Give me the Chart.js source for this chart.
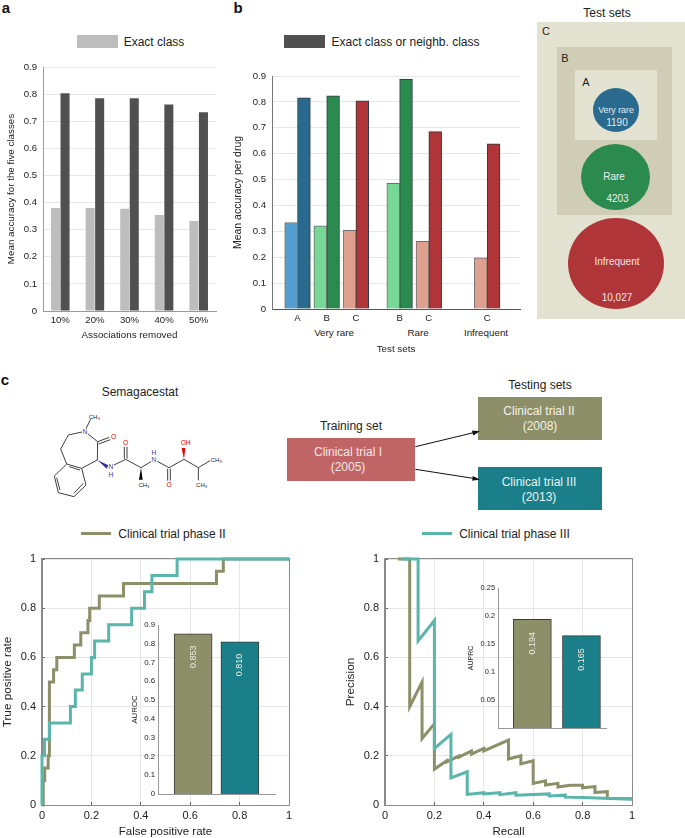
<!DOCTYPE html>
<html>
<head>
<meta charset="utf-8">
<title>Figure</title>
<script src="https://cdn.jsdelivr.net/npm/chart.js@4"></script>
<style>
html, body { margin: 0; padding: 0; background: #fff; }
#page { position: relative; width: 685px; height: 838px; overflow: hidden; font-family: "Liberation Sans", Arial, sans-serif; color: #222; }
#page canvas { position: absolute; }
.txt { position: absolute; white-space: nowrap; transform: translate(-50%, -50%); line-height: 1; }
.panel { font-weight: bold; font-size: 15px; color: #111; }
.box { position: absolute; }
.round { position: absolute; border-radius: 50%; }
</style>
</head>
<body>
<div id="page">
  <!-- panel letters -->
  <div class="txt panel" style="left:6px;top:7px">a</div>
  <div class="txt panel" style="left:238px;top:7px">b</div>
  <div class="txt panel" style="left:5px;top:379px">c</div>

  <!-- legends a / b -->
  <div class="box" style="left:77px;top:35px;width:41px;height:13px;background:#bdbdbd"></div>
  <div class="txt" style="left:154px;top:41.5px;font-size:12px">Exact class</div>
  <div class="box" style="left:284px;top:35px;width:41px;height:13px;background:#505050"></div>
  <div class="txt" style="left:405.5px;top:41.5px;font-size:12px">Exact class or neighb. class</div>

  <!-- group labels under panel b -->
  <div class="txt" style="left:334px;top:333px;font-size:9.8px">Very rare</div>
  <div class="txt" style="left:418px;top:333px;font-size:9.8px">Rare</div>
  <div class="txt" style="left:486px;top:333px;font-size:9.8px">Infrequent</div>

  <!-- test sets diagram -->
  <div class="txt" style="left:607px;top:13px;font-size:12px">Test sets</div>
  <div class="box" style="left:537px;top:22px;width:148px;height:297px;background:#e3e2d0"></div>
  <div class="box" style="left:557px;top:47px;width:115px;height:168px;background:#cfcdb6"></div>
  <div class="box" style="left:575px;top:70px;width:82px;height:70px;background:#e3e2d0"></div>
  <div class="txt" style="left:546px;top:31px;font-size:11px">C</div>
  <div class="txt" style="left:565px;top:58px;font-size:11px">B</div>
  <div class="txt" style="left:586px;top:82px;font-size:11px">A</div>
  <div class="round" style="left:593px;top:88px;width:46px;height:44px;background:#2a6a8e"></div>
  <div class="round" style="left:581px;top:144px;width:69px;height:66px;background:#2b8a4d"></div>
  <div class="round" style="left:568px;top:218px;width:96px;height:91px;background:#b03539"></div>
  <div class="txt" style="left:616px;top:109.5px;font-size:8.8px;color:#e4ebef">Very rare</div>
  <div class="txt" style="left:617px;top:123px;font-size:10px;color:#e4ebef">1190</div>
  <div class="txt" style="left:614px;top:177px;font-size:10px;color:#eef3ef">Rare</div>
  <div class="txt" style="left:617.5px;top:199px;font-size:10px;color:#eef3ef">4203</div>
  <div class="txt" style="left:617px;top:262px;font-size:10px;color:#f3e6e6">Infrequent</div>
  <div class="txt" style="left:617px;top:297.5px;font-size:10px;color:#f3e6e6">10,027</div>

  <!-- panel c header -->
  <div class="txt" style="left:140px;top:392px;font-size:12px">Semagacestat</div>
  <svg class="box" style="left:0;top:370px" width="250" height="170" viewBox="0 0 750 510" font-family="Liberation Sans, Arial, sans-serif" font-size="18">
    <g stroke="#222" stroke-width="2.6" fill="none">
      <path d="M200 282 L245 295 L258 345 L222 380 L175 368 L163 318 Z"/>
      <path d="M208 290 L240 300 M250 340 L222 370 M180 360 L170 323"/>
      <path d="M200 282 L182 237 L205 195 L246 186"/>
      <path d="M245 295 L292 270 L293 215"/>
      <path d="M258 176 L272 148"/>
      <path d="M293 215 L264 192"/>
      <path d="M377 268 L342 285"/>
      <path d="M423 293 L377 268 M373 266 L373 230 M381 266 L381 230" />
      <path d="M423 293 L453 275"/>
      <path d="M507 293 L472 274"/>
      <path d="M507 293 L552 268 L595 293 L630 272 M595 293 L595 331"/>
      <path d="M503 296 L503 332 M511 296 L511 332"/>
      <path d="M293 215 L328 202 M296 222 L331 209"/>
    </g>
    <path d="M292 270 L325 286 L320 296 Z" fill="#333399"/>
    <path d="M423 293 L417 329 L428 329 Z" fill="#000"/>
    <path d="M552 268 L545 234 L556 234 Z" fill="#e00000"/>
    <g stroke="none" text-anchor="middle">
      <text x="255" y="192" fill="#3b3ba8" font-size="20">N</text>
      <text x="283" y="146" fill="#222">CH&#8323;</text>
      <text x="341" y="207" fill="#e00000" font-size="20">O</text>
      <text x="333" y="298" fill="#3b3ba8" font-size="20">N</text>
      <text x="333" y="320" fill="#3b3ba8" font-size="20">H</text>
      <text x="377" y="225" fill="#e00000" font-size="20">O</text>
      <text x="432" y="350" fill="#222">CH&#8323;</text>
      <text x="462" y="275" fill="#3b3ba8" font-size="20">N</text>
      <text x="462" y="255" fill="#3b3ba8" font-size="20">H</text>
      <text x="507" y="350" fill="#e00000" font-size="20">O</text>
      <text x="557" y="224" fill="#e00000" font-size="20">OH</text>
      <text x="649" y="276" fill="#222">CH&#8323;</text>
      <text x="605" y="350" fill="#222">CH&#8323;</text>
    </g>
  </svg>

  <!-- training / testing flow -->
  <div class="txt" style="left:351px;top:426px;font-size:12px">Training set</div>
  <div class="box" style="left:287px;top:438px;width:128px;height:43px;background:#c06465"></div>
  <div class="txt" style="left:348px;top:452px;font-size:12px;color:#f4e6e6">Clinical trial I</div>
  <div class="txt" style="left:348px;top:467px;font-size:12px;color:#f4e6e6">(2005)</div>
  <div class="txt" style="left:540px;top:385px;font-size:12px">Testing sets</div>
  <div class="box" style="left:478px;top:397px;width:124px;height:43px;background:#8d8f68"></div>
  <div class="txt" style="left:539px;top:410.5px;font-size:12px;color:#f2f2ea">Clinical trial II</div>
  <div class="txt" style="left:540px;top:426px;font-size:12px;color:#f2f2ea">(2008)</div>
  <div class="box" style="left:478px;top:467px;width:124px;height:43px;background:#1a7f89"></div>
  <div class="txt" style="left:539px;top:482px;font-size:12px;color:#e6f2f3">Clinical trial III</div>
  <div class="txt" style="left:539px;top:497px;font-size:12px;color:#e6f2f3">(2013)</div>
  <svg class="box" style="left:0;top:0" width="685" height="838">
    <path d="M415.3 446.7 L473 432.8 M415.3 469.3 L473 478.3" stroke="#111" stroke-width="1" fill="none"/>
    <path d="M480 431.2 L472 430.6 L473.2 435.4 Z M480 479.4 L472.8 475.9 L472.2 480.8 Z" fill="#111"/>
  </svg>

  <!-- legend of curves -->
  <div class="box" style="left:81px;top:532px;width:30px;height:3px;background:#8d8f68"></div>
  <div class="txt" style="left:172px;top:534px;font-size:12px">Clinical trial phase II</div>
  <div class="box" style="left:422px;top:532px;width:30px;height:3px;background:#5ab5ab"></div>
  <div class="txt" style="left:514.5px;top:534px;font-size:12px">Clinical trial phase III</div>
</div>

<script>
// panel a
const removedLabels = ['10%', '20%', '30%', '40%', '50%'];
const exactClass = [0.38, 0.38, 0.377, 0.354, 0.332];
const exactOrNeighb = [0.803, 0.785, 0.785, 0.762, 0.733];

// panel b, blank slots keep the gaps between the three groups
const testSetLabels = ['', '', '', 'A', '', '', '', 'B', '', '', '', 'C', '', '', '', '', '', 'B', '', '', '', 'C', '', '', '', '', '', '', '', 'C', '', '', '', ''];
const perDrugExact = [null, null, null, 0.334, null, null, null, 0.321, null, null, null, 0.304, null, null, null, null, null, 0.485, null, null, null, 0.261, null, null, null, null, null, null, null, 0.198, null, null, null, null];
const perDrugNeighb = [null, null, null, 0.816, null, null, null, 0.823, null, null, null, 0.804, null, null, null, null, null, 0.888, null, null, null, 0.685, null, null, null, null, null, null, null, 0.638, null, null, null, null];
const perDrugExactColors = ['', '', '', '#559fcf', '', '', '', '#76d796', '', '', '', '#e0a090', '', '', '', '', '', '#76d796', '', '', '', '#e0a090', '', '', '', '', '', '', '', '#e0a090', '', '', '', ''];
const perDrugNeighbColors = ['', '', '', '#2a6a8e', '', '', '', '#2b8a4d', '', '', '', '#b03539', '', '', '', '', '', '#2b8a4d', '', '', '', '#b03539', '', '', '', '', '', '', '', '#b03539', '', '', '', ''];

// panel c, ROC curves
const rocFprPhase2 = [0, 0.005, 0.005, 0.011, 0.011, 0.025, 0.025, 0.03, 0.03, 0.047, 0.047, 0.06, 0.06, 0.131, 0.131, 0.157, 0.157, 0.186, 0.186, 0.193, 0.193, 0.232, 0.232, 0.33, 0.33, 0.7065, 0.7065, 0.734, 0.734, 1];
const rocTprPhase2 = [0, 0, 0.1, 0.1, 0.15, 0.15, 0.2, 0.2, 0.5, 0.5, 0.55, 0.55, 0.6, 0.6, 0.65, 0.65, 0.7, 0.7, 0.75, 0.75, 0.8, 0.8, 0.85, 0.85, 0.9, 0.9, 0.95, 0.95, 1, 1];
const rocFprPhase3 = [0, 0, 0.01, 0.01, 0.03, 0.03, 0.115, 0.115, 0.135, 0.135, 0.163, 0.163, 0.2, 0.2, 0.213, 0.213, 0.27, 0.27, 0.363, 0.363, 0.415, 0.415, 0.445, 0.445, 0.547, 0.547, 1];
const rocTprPhase3 = [0, 0.2, 0.2, 0.267, 0.267, 0.333, 0.333, 0.4, 0.4, 0.467, 0.467, 0.533, 0.533, 0.6, 0.6, 0.667, 0.667, 0.733, 0.733, 0.8, 0.8, 0.867, 0.867, 0.933, 0.933, 1, 1];

// panel c, precision-recall curves
const prRecallPhase2 = [0.053, 0.1, 0.1, 0.15, 0.15, 0.2, 0.2, 0.25, 0.25, 0.3, 0.3, 0.35, 0.35, 0.4, 0.4, 0.5, 0.5, 0.55, 0.55, 0.6, 0.6, 0.65, 0.65, 0.7, 0.7, 0.75, 0.8, 0.8, 0.85, 0.85, 0.9, 0.9, 1];
const prPrecisionPhase2 = [1, 1, 0.4, 0.5, 0.27, 0.33, 0.146, 0.18, 0.175, 0.2, 0.195, 0.22, 0.207, 0.23, 0.22, 0.264, 0.187, 0.2, 0.167, 0.18, 0.088, 0.098, 0.081, 0.088, 0.073, 0.08, 0.08, 0.07, 0.075, 0.051, 0.054, 0.027, 0.025];
const prRecallPhase3 = [0.067, 0.134, 0.134, 0.2, 0.2, 0.267, 0.267, 0.333, 0.333, 0.4, 0.4, 0.465, 0.465, 0.53, 0.53, 0.665, 0.665, 0.73, 0.73, 0.8, 1];
const prPrecisionPhase3 = [1, 1, 0.667, 0.75, 0.23, 0.287, 0.11, 0.135, 0.043, 0.05, 0.045, 0.05, 0.042, 0.05, 0.04, 0.045, 0.037, 0.04, 0.032, 0.03, 0.023];

const ratioTicks = [0, 0.2, 0.4, 0.6, 0.8, 1];

// insets, blank slots hold the bars apart from the axis
const aurocSlots = ['', 'Phase II', '', 'Phase III', ''];
const aurocValues = [null, 0.853, null, 0.81, null];
const aurocLabels = ['', '0.853', '', '0.810', ''];
const auprcSlots = ['', '', '', 'Phase II', '', '', '', '', 'Phase III', '', ''];
const auprcValues = [null, null, null, 0.194, null, null, null, null, 0.165, null, null];
const auprcLabels = ['', '', '', '0.194', '', '', '', '', '0.165', '', ''];

const olive = '#8d8f68';
const teal = '#5ab5ab';
const darkTeal = '#1a7f89';
const gridColor = '#e6e6e6';
const axisColor = '#8a8a8a';

Chart.defaults.font.family = '"Liberation Sans", Arial, sans-serif';
Chart.defaults.color = '#222';
Chart.defaults.animation = false;
Chart.defaults.plugins.legend.display = false;
Chart.defaults.plugins.tooltip.enabled = false;

function addCanvas(left, top, width, height) {
    const canvas = document.createElement('canvas');
    canvas.width = width;
    canvas.height = height;
    canvas.style.left = left + 'px';
    canvas.style.top = top + 'px';
    canvas.style.width = width + 'px';
    canvas.style.height = height + 'px';
    document.getElementById('page').appendChild(canvas);
    return canvas.getContext('2d');
}

// fixed axis boxes so the plot area lands where it should
function fixWidth(size) {
    return scale => {
        scale.width = size;
        scale.paddingTop = 0;
        scale.paddingBottom = 0;
    };
}
function fixHeight(size) {
    return scale => {
        scale.height = size;
        scale.paddingLeft = 0;
        scale.paddingRight = 0;
    };
}

const frame = {
    id: 'frame',
    beforeDatasetsDraw(chart) {
        const { ctx, chartArea: a } = chart;
        ctx.save();
        ctx.strokeStyle = axisColor;
        ctx.lineWidth = 1;
        ctx.strokeRect(a.left - 0.5, a.top - 0.5, a.right - a.left + 1, a.bottom - a.top + 1);
        ctx.restore();
    }
};

function barValueLabels(labels, top) {
    return {
        id: 'barValueLabels',
        afterDatasetsDraw(chart) {
            const { ctx } = chart;
            chart.getDatasetMeta(0).data.forEach((bar, i) => {
                if (!labels[i]) return;
                ctx.save();
                ctx.translate(bar.x, bar.y + top);
                ctx.rotate(-Math.PI / 2);
                ctx.font = '9px "Liberation Sans", Arial, sans-serif';
                ctx.fillStyle = '#eeeee2';
                ctx.textAlign = 'center';
                ctx.textBaseline = 'middle';
                ctx.fillText(labels[i], 0, 0);
                ctx.restore();
            });
        }
    };
}

// panel a
new Chart(addCanvas(0, 55, 225, 290), {
    type: 'bar',
    data: {
        labels: removedLabels,
        datasets: [
            { data: exactClass, backgroundColor: '#bdbdbd', categoryPercentage: 0.55, barPercentage: 0.95 },
            { data: exactOrNeighb, backgroundColor: '#505050', categoryPercentage: 0.55, barPercentage: 0.95 }
        ]
    },
    options: {
        responsive: false,
        layout: { padding: { top: 12, right: 9 } },
        scales: {
            x: {
                afterFit: fixHeight(34),
                grid: { display: false, drawTicks: false },
                border: { color: '#9a9a9a' },
                ticks: { font: { size: 9.6 }, padding: 4, maxRotation: 0 },
                title: { display: true, text: 'Associations removed', font: { size: 9.8 }, padding: { top: 0, bottom: 4 } }
            },
            y: {
                min: 0, max: 0.9,
                afterFit: fixWidth(43),
                grid: { color: gridColor, drawTicks: false },
                border: { color: '#9a9a9a' },
                ticks: { stepSize: 0.1, font: { size: 9.6 }, padding: 6, callback: v => v === 0 ? '0' : v.toFixed(1) },
                title: { display: true, text: 'Mean accuracy for the five classes', font: { size: 9.8 }, padding: { top: 5, bottom: 0 } }
            }
        }
    }
});

// panel b
new Chart(addCanvas(232, 64, 295, 292), {
    type: 'bar',
    data: {
        labels: testSetLabels,
        datasets: [
            { data: perDrugExact, backgroundColor: perDrugExactColors, borderColor: '#6f6f6f', borderWidth: 1, barThickness: 12.8 },
            { data: perDrugNeighb, backgroundColor: perDrugNeighbColors, borderColor: '#2e3a40', borderWidth: 1, barThickness: 12.8 }
        ]
    },
    options: {
        responsive: false,
        layout: { padding: { top: 12, right: 7 } },
        scales: {
            x: {
                afterFit: fixHeight(47),
                grid: { display: false, drawTicks: false },
                border: { color: '#555' },
                ticks: {
                    font: { size: 9.6 }, padding: 4, autoSkip: false, maxRotation: 0,
                    callback: (v, i) => testSetLabels[i]
                },
                title: { display: true, text: 'Test sets', font: { size: 9.8 }, padding: { top: 0, bottom: 1 } }
            },
            y: {
                min: 0, max: 0.9,
                afterFit: fixWidth(40),
                grid: { color: gridColor, drawTicks: false },
                border: { color: '#777' },
                ticks: { stepSize: 0.1, font: { size: 9.6 }, padding: 6, callback: v => v === 0 ? '0' : v.toFixed(1) },
                title: { display: true, text: 'Mean accuracy per drug', font: { size: 10.5 }, padding: { top: 0, bottom: 0 } }
            }
        }
    }
});

function curveChart(ctx, xTitle, yTitle, leftBox, series) {
    return new Chart(ctx, {
        type: 'scatter',
        data: { datasets: series.map(s => ({
            data: s.x.map((v, i) => ({ x: v, y: s.y[i] })),
            showLine: true,
            pointRadius: 0,
            borderColor: s.color,
            borderWidth: 3,
            borderCapStyle: 'butt',
            borderJoinStyle: 'miter',
            clip: 4,
            order: s.order
        })) },
        options: {
            responsive: false,
            layout: { padding: { top: 9, right: 8 } },
            scales: {
                x: {
                    min: 0, max: 1,
                    afterFit: fixHeight(37),
                    grid: { color: gridColor, tickColor: '#666', tickLength: -3 },
                    border: { color: axisColor },
                    afterBuildTicks: scale => { scale.ticks = ratioTicks.map(v => ({ value: v })); },
                    ticks: { font: { size: 11 }, padding: 7, maxRotation: 0, callback: v => String(v) },
                    title: { display: true, text: xTitle, font: { size: 11.5 }, padding: { top: 0, bottom: 3 } }
                },
                y: {
                    min: 0, max: 1,
                    afterFit: fixWidth(leftBox),
                    grid: { color: gridColor, tickColor: '#666', tickLength: -3 },
                    border: { color: axisColor },
                    afterBuildTicks: scale => { scale.ticks = ratioTicks.map(v => ({ value: v })); },
                    ticks: { font: { size: 11 }, padding: 9, callback: v => String(v) },
                    title: { display: true, text: yTitle, font: { size: 11.8 }, padding: { top: 1, bottom: 0 } }
                }
            }
        },
        plugins: [frame]
    });
}

// ROC
curveChart(addCanvas(0, 550, 297, 292), 'False positive rate', 'True positive rate', 42, [
    { x: rocFprPhase2, y: rocTprPhase2, color: olive, order: 2 },
    { x: rocFprPhase3, y: rocTprPhase3, color: teal, order: 1 }
]);

// precision-recall
curveChart(addCanvas(343, 550, 297, 292), 'Recall', 'Precision', 42, [
    { x: prRecallPhase2, y: prPrecisionPhase2, color: olive, order: 2 },
    { x: prRecallPhase3, y: prPrecisionPhase3, color: teal, order: 1 }
]);

// AUROC inset
new Chart(addCanvas(128, 618, 150, 185), {
    type: 'bar',
    data: {
        labels: aurocSlots,
        datasets: [{ data: aurocValues, backgroundColor: [null, olive, null, darkTeal, null], borderColor: '#3a3a3a', borderWidth: 1, barThickness: 38 }]
    },
    options: {
        responsive: false,
        layout: { padding: { top: 7, right: 3 } },
        scales: {
            x: {
                afterFit: fixHeight(9),
                grid: { display: false },
                border: { color: '#999' },
                ticks: { display: false }
            },
            y: {
                min: 0, max: 0.9,
                afterFit: fixWidth(30),
                grid: { display: false, drawTicks: false },
                border: { color: '#999' },
                ticks: { stepSize: 0.1, font: { size: 7.8 }, padding: 3, callback: v => v === 0 ? '0' : v.toFixed(1) },
                title: { display: true, text: 'AUROC', font: { size: 7.8 }, padding: { top: 2, bottom: 0 } }
            }
        }
    },
    plugins: [barValueLabels(aurocLabels, 23)]
});

// AUPRC inset
new Chart(addCanvas(463, 580, 146, 155), {
    type: 'bar',
    data: {
        labels: auprcSlots,
        datasets: [{ data: auprcValues, backgroundColor: [null, null, null, olive, null, null, null, null, darkTeal, null, null], borderColor: '#3a3a3a', borderWidth: 1, barThickness: 38 }]
    },
    options: {
        responsive: false,
        layout: { padding: { top: 8, right: 3 } },
        scales: {
            x: {
                afterFit: fixHeight(7),
                grid: { display: false },
                border: { color: '#999' },
                ticks: { display: false }
            },
            y: {
                min: 0, max: 0.25,
                afterFit: fixWidth(35),
                grid: { display: false, drawTicks: false },
                border: { color: '#999' },
                ticks: { stepSize: 0.05, font: { size: 7.4 }, padding: 3, callback: v => v === 0 ? '' : String(+v.toFixed(2)) },
                title: { display: true, text: 'AUPRC', font: { size: 7 }, padding: { top: 4, bottom: 0 } }
            }
        }
    },
    plugins: [barValueLabels(auprcLabels, 24)]
});
</script>
</body>
</html>
